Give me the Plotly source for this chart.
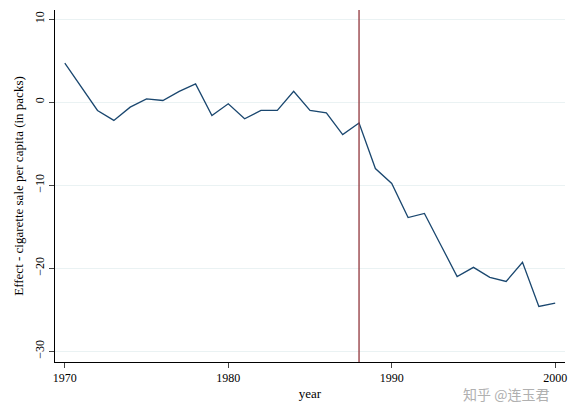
import plotly.graph_objects as go

years = list(range(1970, 2001))
effect = [4.7, 1.9, -1.0, -2.2, -0.6, 0.4, 0.2, 1.3, 2.2, -1.6, -0.2, -2.0, -1.0, -1.0, 1.3,
          -1.0, -1.3, -3.9, -2.5, -8.0, -9.8, -13.9, -13.4, -17.2, -21.0, -19.9, -21.1, -21.6,
          -19.3, -24.6, -24.2]
treat_year = 1988
xticks = [1970, 1980, 1990, 2000]
yticks = [10, 0, -10, -20, -30]

fig = go.Figure()
fig.add_trace(go.Scatter(x=years, y=effect, mode="lines",
                         line=dict(color="#1a476f", width=1.3), showlegend=False))
fig.add_vline(x=treat_year, line=dict(color="#90353b", width=1.3))
fig.update_layout(
    width=569, height=411, paper_bgcolor="white", plot_bgcolor="white",
    margin=dict(l=47, r=12, t=2, b=57),
    font=dict(family="Liberation Serif", size=12, color="black"),
    xaxis=dict(range=[1969.4, 2000.6], tickvals=xticks, ticks="outside", ticklen=5,
               showline=True, linecolor="black", showgrid=False, zeroline=False, automargin=False,
               title=dict(text="year", standoff=4, font=dict(size=13))),
    yaxis=dict(range=[-31.3, 11.1], tickvals=yticks, ticks="outside", ticklen=5,
               tickangle=-90, showline=True, linecolor="black", showgrid=True,
               gridcolor="#eaf2f3", zeroline=False, automargin=False,
               title=dict(text="Effect - cigarette sale per capita (in packs)", standoff=6, font=dict(size=13))),
    annotations=[dict(text="知乎 @连玉君", x=1, y=0, xref="paper", yref="paper",
                      xanchor="right", yanchor="top", showarrow=False, xshift=-14, yshift=-20,
                      font=dict(family="Noto Sans CJK SC", size=14, color="#b0b0b0"))],
)
fig.write_html("out.html")
